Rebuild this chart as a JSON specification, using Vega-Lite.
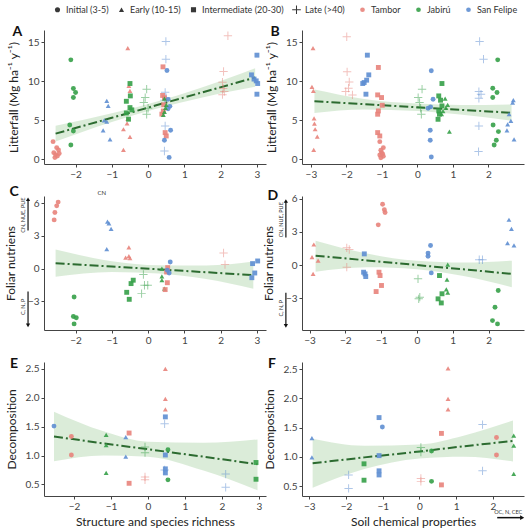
{
  "$schema": "https://vega.github.io/schema/vega-lite/v6.json",
  "padding": {"left": 4, "top": 5, "right": 2, "bottom": 2},
  "background": "white",
  "columns": 2,
  "bounds": "flush",
  "spacing": {"row": 32, "column": 36},
  "resolve": {"scale": {"color": "shared", "shape": "shared"}},
  "config": {
    "font": "Lato",
    "view": {"stroke": null},
    "axis": {"grid": false, "domainColor": "#444", "tickColor": "#444", "labelColor": "#444", "labelFontSize": 10, "titleFontSize": 12, "titleFontWeight": "normal", "titleColor": "#222", "tickSize": 3, "labelPadding": 2, "titlePadding": 5},
    "axisY": {"titlePadding": 7},
    "title": {"anchor": "start", "frame": "bounds", "fontSize": 14, "fontWeight": "bold", "color": "#111", "offset": -9, "dx": 5},
    "legend": {"orient": "none", "direction": "horizontal", "title": null, "labelFontSize": 9, "labelColor": "#333", "labelOffset": 4, "symbolStrokeWidth": 0},
    "mark": {"tooltip": false}
  },
  "datasets": {
    "fit": [
      {"panel": "A", "x": -2.55, "fit": 3.3, "lo": 2.3, "hi": 4.3},
      {"panel": "A", "x": -1.0, "fit": 5.33, "lo": 4.8, "hi": 5.9},
      {"panel": "A", "x": 0.2, "fit": 6.9, "lo": 6.45, "hi": 7.35},
      {"panel": "A", "x": 1.5, "fit": 8.6, "lo": 7.95, "hi": 9.25},
      {"panel": "A", "x": 2.95, "fit": 10.5, "lo": 9.3, "hi": 11.7},
      {"panel": "B", "x": -2.9, "fit": 7.45, "lo": 5.95, "hi": 8.95},
      {"panel": "B", "x": -1.5, "fit": 7.08, "lo": 6.4, "hi": 7.75},
      {"panel": "B", "x": 0.0, "fit": 6.68, "lo": 6.2, "hi": 7.15},
      {"panel": "B", "x": 1.2, "fit": 6.36, "lo": 5.75, "hi": 6.97},
      {"panel": "B", "x": 2.65, "fit": 5.98, "lo": 4.95, "hi": 7.05},
      {"panel": "C", "x": -2.55, "fit": 0.5, "lo": -0.75, "hi": 1.75},
      {"panel": "C", "x": -1.0, "fit": 0.19, "lo": -0.3, "hi": 0.68},
      {"panel": "C", "x": 0.3, "fit": -0.07, "lo": -0.45, "hi": 0.31},
      {"panel": "C", "x": 1.6, "fit": -0.33, "lo": -0.95, "hi": 0.29},
      {"panel": "C", "x": 2.9, "fit": -0.6, "lo": -1.85, "hi": 0.65},
      {"panel": "D", "x": -2.83, "fit": 0.85, "lo": -0.6, "hi": 2.2},
      {"panel": "D", "x": -1.4, "fit": 0.42, "lo": -0.2, "hi": 1.04},
      {"panel": "D", "x": 0.0, "fit": 0.0, "lo": -0.38, "hi": 0.38},
      {"panel": "D", "x": 1.3, "fit": -0.39, "lo": -1.0, "hi": 0.22},
      {"panel": "D", "x": 2.65, "fit": -0.8, "lo": -2.0, "hi": 0.4},
      {"panel": "E", "x": -2.54, "fit": 1.33, "lo": 0.9, "hi": 1.76},
      {"panel": "E", "x": -1.2, "fit": 1.21, "lo": 1.0, "hi": 1.42},
      {"panel": "E", "x": 0.0, "fit": 1.11, "lo": 0.98, "hi": 1.24},
      {"panel": "E", "x": 1.5, "fit": 0.98, "lo": 0.74, "hi": 1.22},
      {"panel": "E", "x": 2.96, "fit": 0.85, "lo": 0.4, "hi": 1.28},
      {"panel": "F", "x": -2.91, "fit": 0.89, "lo": 0.47, "hi": 1.31},
      {"panel": "F", "x": -1.5, "fit": 0.99, "lo": 0.79, "hi": 1.19},
      {"panel": "F", "x": 0.0, "fit": 1.09, "lo": 0.97, "hi": 1.21},
      {"panel": "F", "x": 1.2, "fit": 1.18, "lo": 1.0, "hi": 1.36},
      {"panel": "F", "x": 2.55, "fit": 1.27, "lo": 0.92, "hi": 1.62}
    ],
    "arrows": [
      {"panel": "C", "x": -3.31, "y": 3.5, "x2": -3.31, "y2": 6.3},
      {"panel": "C", "x": -3.31, "y": -2.1, "x2": -3.31, "y2": -5.15},
      {"panel": "D", "x": -3.66, "y": 2.5, "x2": -3.66, "y2": 5.75},
      {"panel": "D", "x": -3.66, "y": -2.5, "x2": -3.66, "y2": -5.45},
      {"panel": "F", "x": 2.12, "y": -0.04, "x2": 2.78, "y2": -0.04}
    ],
    "heads": [
      {"panel": "C", "x": -3.31, "y": 6.35, "dir": "up"},
      {"panel": "C", "x": -3.31, "y": -5.2, "dir": "down"},
      {"panel": "D", "x": -3.66, "y": 5.8, "dir": "up"},
      {"panel": "D", "x": -3.66, "y": -5.5, "dir": "down"},
      {"panel": "F", "x": 2.8, "y": -0.04, "dir": "right"}
    ],
    "notes": [
      {"panel": "C", "x": -3.44, "y": 4.9, "label": "CN, NUE, PUE", "rot": "v"},
      {"panel": "C", "x": -3.44, "y": -3.5, "label": "C, N, P", "rot": "v"},
      {"panel": "D", "x": -3.79, "y": 4.1, "label": "CN, NUE, PUE", "rot": "v"},
      {"panel": "D", "x": -3.79, "y": -3.9, "label": "C, N, P", "rot": "v"},
      {"panel": "C", "x": -1.28, "y": 6.95, "label": "CN", "rot": "h"},
      {"panel": "F", "x": 2.42, "y": 0.06, "label": "OC, N, CEC", "rot": "h"}
    ],
    "pts": [
      {"panel": "A", "site": "Tambor", "stage": "Initial (3-5)", "x": -2.62, "y": 2.27},
      {"panel": "A", "site": "Tambor", "stage": "Initial (3-5)", "x": -2.52, "y": 1.5},
      {"panel": "A", "site": "Tambor", "stage": "Initial (3-5)", "x": -2.47, "y": 1.2},
      {"panel": "A", "site": "Tambor", "stage": "Initial (3-5)", "x": -2.6, "y": 0.86},
      {"panel": "A", "site": "Tambor", "stage": "Initial (3-5)", "x": -2.55, "y": 0.6},
      {"panel": "A", "site": "Tambor", "stage": "Initial (3-5)", "x": -2.5, "y": 0.42},
      {"panel": "A", "site": "Tambor", "stage": "Initial (3-5)", "x": -2.57, "y": 0.22},
      {"panel": "A", "site": "Tambor", "stage": "Initial (3-5)", "x": -2.45, "y": 0.75},
      {"panel": "A", "site": "Jabirú", "stage": "Initial (3-5)", "x": -2.13, "y": 12.77},
      {"panel": "A", "site": "Jabirú", "stage": "Initial (3-5)", "x": -2.06, "y": 9.09},
      {"panel": "A", "site": "Jabirú", "stage": "Initial (3-5)", "x": -2.0, "y": 8.57},
      {"panel": "A", "site": "Jabirú", "stage": "Initial (3-5)", "x": -2.06, "y": 7.93},
      {"panel": "A", "site": "Jabirú", "stage": "Initial (3-5)", "x": -2.16, "y": 4.41},
      {"panel": "A", "site": "Jabirú", "stage": "Initial (3-5)", "x": -2.06, "y": 3.64},
      {"panel": "A", "site": "Jabirú", "stage": "Initial (3-5)", "x": -2.13, "y": 1.84},
      {"panel": "A", "site": "San Felipe", "stage": "Early (10-15)", "x": -1.14, "y": 7.5},
      {"panel": "A", "site": "San Felipe", "stage": "Early (10-15)", "x": -1.1, "y": 6.86},
      {"panel": "A", "site": "San Felipe", "stage": "Early (10-15)", "x": -1.21, "y": 5.0},
      {"panel": "A", "site": "San Felipe", "stage": "Early (10-15)", "x": -1.14, "y": 4.84},
      {"panel": "A", "site": "San Felipe", "stage": "Early (10-15)", "x": -1.24, "y": 3.73},
      {"panel": "A", "site": "San Felipe", "stage": "Early (10-15)", "x": -1.05, "y": 2.57},
      {"panel": "A", "site": "Tambor", "stage": "Early (10-15)", "x": -0.56, "y": 14.27},
      {"panel": "A", "site": "Tambor", "stage": "Early (10-15)", "x": -0.53, "y": 9.43},
      {"panel": "A", "site": "Tambor", "stage": "Early (10-15)", "x": -0.5, "y": 8.79},
      {"panel": "A", "site": "Tambor", "stage": "Early (10-15)", "x": -0.56, "y": 5.2},
      {"panel": "A", "site": "Tambor", "stage": "Early (10-15)", "x": -0.58, "y": 4.6},
      {"panel": "A", "site": "Tambor", "stage": "Early (10-15)", "x": -0.68, "y": 3.86},
      {"panel": "A", "site": "Tambor", "stage": "Early (10-15)", "x": -0.5, "y": 2.87},
      {"panel": "A", "site": "Tambor", "stage": "Early (10-15)", "x": -0.68, "y": 1.2},
      {"panel": "A", "site": "Jabirú", "stage": "Intermediate (20-30)", "x": -0.5, "y": 9.73},
      {"panel": "A", "site": "Jabirú", "stage": "Intermediate (20-30)", "x": -0.49, "y": 8.14},
      {"panel": "A", "site": "Jabirú", "stage": "Intermediate (20-30)", "x": -0.6, "y": 7.45},
      {"panel": "A", "site": "Jabirú", "stage": "Intermediate (20-30)", "x": -0.5, "y": 6.64},
      {"panel": "A", "site": "Jabirú", "stage": "Intermediate (20-30)", "x": -0.45, "y": 6.35},
      {"panel": "A", "site": "Jabirú", "stage": "Intermediate (20-30)", "x": -0.6, "y": 5.95},
      {"panel": "A", "site": "Jabirú", "stage": "Intermediate (20-30)", "x": -0.54, "y": 5.15},
      {"panel": "A", "site": "Jabirú", "stage": "Late (>40)", "x": -0.04, "y": 9.0},
      {"panel": "A", "site": "Jabirú", "stage": "Late (>40)", "x": -0.08, "y": 7.93},
      {"panel": "A", "site": "Jabirú", "stage": "Late (>40)", "x": -0.12, "y": 7.3},
      {"panel": "A", "site": "Jabirú", "stage": "Late (>40)", "x": 0.0, "y": 6.56},
      {"panel": "A", "site": "Jabirú", "stage": "Late (>40)", "x": -0.04, "y": 5.79},
      {"panel": "A", "site": "San Felipe", "stage": "Late (>40)", "x": 0.49, "y": 15.13},
      {"panel": "A", "site": "San Felipe", "stage": "Late (>40)", "x": 0.49, "y": 12.86},
      {"panel": "A", "site": "San Felipe", "stage": "Late (>40)", "x": 0.47, "y": 8.6},
      {"panel": "A", "site": "San Felipe", "stage": "Late (>40)", "x": 0.5, "y": 7.9},
      {"panel": "A", "site": "San Felipe", "stage": "Late (>40)", "x": 0.45, "y": 7.6},
      {"panel": "A", "site": "San Felipe", "stage": "Late (>40)", "x": 0.47, "y": 4.29},
      {"panel": "A", "site": "San Felipe", "stage": "Late (>40)", "x": 0.45, "y": 1.07},
      {"panel": "A", "site": "Tambor", "stage": "Intermediate (20-30)", "x": 0.41, "y": 11.87},
      {"panel": "A", "site": "Tambor", "stage": "Intermediate (20-30)", "x": 0.4, "y": 8.2},
      {"panel": "A", "site": "Tambor", "stage": "Intermediate (20-30)", "x": 0.45, "y": 7.9},
      {"panel": "A", "site": "Tambor", "stage": "Intermediate (20-30)", "x": 0.43, "y": 7.0},
      {"panel": "A", "site": "Tambor", "stage": "Intermediate (20-30)", "x": 0.42, "y": 6.2},
      {"panel": "A", "site": "Tambor", "stage": "Intermediate (20-30)", "x": 0.38, "y": 5.8},
      {"panel": "A", "site": "Tambor", "stage": "Intermediate (20-30)", "x": 0.47, "y": 3.43},
      {"panel": "A", "site": "Tambor", "stage": "Intermediate (20-30)", "x": 0.5, "y": 3.0},
      {"panel": "A", "site": "San Felipe", "stage": "Initial (3-5)", "x": 0.52, "y": 11.4},
      {"panel": "A", "site": "San Felipe", "stage": "Initial (3-5)", "x": 0.55, "y": 7.7},
      {"panel": "A", "site": "San Felipe", "stage": "Initial (3-5)", "x": 0.6, "y": 6.8},
      {"panel": "A", "site": "San Felipe", "stage": "Initial (3-5)", "x": 0.55, "y": 6.5},
      {"panel": "A", "site": "San Felipe", "stage": "Initial (3-5)", "x": 0.62, "y": 3.73},
      {"panel": "A", "site": "San Felipe", "stage": "Initial (3-5)", "x": 0.45, "y": 2.44},
      {"panel": "A", "site": "San Felipe", "stage": "Initial (3-5)", "x": 0.58, "y": 0.25},
      {"panel": "A", "site": "Jabirú", "stage": "Early (10-15)", "x": 0.45, "y": 7.8},
      {"panel": "A", "site": "Jabirú", "stage": "Early (10-15)", "x": 0.5, "y": 7.0},
      {"panel": "A", "site": "Jabirú", "stage": "Early (10-15)", "x": 0.48, "y": 6.6},
      {"panel": "A", "site": "Jabirú", "stage": "Early (10-15)", "x": 0.45, "y": 6.1},
      {"panel": "A", "site": "Jabirú", "stage": "Early (10-15)", "x": 0.42, "y": 5.7},
      {"panel": "A", "site": "Tambor", "stage": "Late (>40)", "x": 2.2, "y": 15.86},
      {"panel": "A", "site": "Tambor", "stage": "Late (>40)", "x": 2.08, "y": 11.27},
      {"panel": "A", "site": "Tambor", "stage": "Late (>40)", "x": 2.05, "y": 9.9},
      {"panel": "A", "site": "Tambor", "stage": "Late (>40)", "x": 2.07, "y": 9.1},
      {"panel": "A", "site": "Tambor", "stage": "Late (>40)", "x": 2.1, "y": 8.7},
      {"panel": "A", "site": "Tambor", "stage": "Late (>40)", "x": 2.05, "y": 8.3},
      {"panel": "A", "site": "San Felipe", "stage": "Intermediate (20-30)", "x": 3.0, "y": 13.37},
      {"panel": "A", "site": "San Felipe", "stage": "Intermediate (20-30)", "x": 2.85, "y": 10.84},
      {"panel": "A", "site": "San Felipe", "stage": "Intermediate (20-30)", "x": 2.92, "y": 10.3},
      {"panel": "A", "site": "San Felipe", "stage": "Intermediate (20-30)", "x": 2.98, "y": 10.07},
      {"panel": "A", "site": "San Felipe", "stage": "Intermediate (20-30)", "x": 3.02, "y": 9.73},
      {"panel": "A", "site": "San Felipe", "stage": "Intermediate (20-30)", "x": 3.0, "y": 8.36},

      {"panel": "B", "site": "Tambor", "stage": "Early (10-15)", "x": -2.94, "y": 14.27},
      {"panel": "B", "site": "Tambor", "stage": "Early (10-15)", "x": -2.97, "y": 9.3},
      {"panel": "B", "site": "Tambor", "stage": "Early (10-15)", "x": -2.93, "y": 8.79},
      {"panel": "B", "site": "Tambor", "stage": "Early (10-15)", "x": -2.91, "y": 5.27},
      {"panel": "B", "site": "Tambor", "stage": "Early (10-15)", "x": -2.9, "y": 4.59},
      {"panel": "B", "site": "Tambor", "stage": "Early (10-15)", "x": -2.88, "y": 3.86},
      {"panel": "B", "site": "Tambor", "stage": "Early (10-15)", "x": -2.82, "y": 2.91},
      {"panel": "B", "site": "Tambor", "stage": "Early (10-15)", "x": -2.92, "y": 1.2},
      {"panel": "B", "site": "Tambor", "stage": "Late (>40)", "x": -1.99, "y": 15.73},
      {"panel": "B", "site": "Tambor", "stage": "Late (>40)", "x": -1.98, "y": 11.23},
      {"panel": "B", "site": "Tambor", "stage": "Late (>40)", "x": -1.92, "y": 9.94},
      {"panel": "B", "site": "Tambor", "stage": "Late (>40)", "x": -1.94, "y": 9.13},
      {"panel": "B", "site": "Tambor", "stage": "Late (>40)", "x": -2.02, "y": 8.7},
      {"panel": "B", "site": "Tambor", "stage": "Late (>40)", "x": -1.83, "y": 8.27},
      {"panel": "B", "site": "San Felipe", "stage": "Intermediate (20-30)", "x": -1.41, "y": 13.37},
      {"panel": "B", "site": "San Felipe", "stage": "Intermediate (20-30)", "x": -1.37, "y": 10.84},
      {"panel": "B", "site": "San Felipe", "stage": "Intermediate (20-30)", "x": -1.43, "y": 10.16},
      {"panel": "B", "site": "San Felipe", "stage": "Intermediate (20-30)", "x": -1.5, "y": 9.86},
      {"panel": "B", "site": "San Felipe", "stage": "Intermediate (20-30)", "x": -1.54, "y": 9.73},
      {"panel": "B", "site": "San Felipe", "stage": "Intermediate (20-30)", "x": -1.45, "y": 8.36},
      {"panel": "B", "site": "Tambor", "stage": "Intermediate (20-30)", "x": -1.1, "y": 11.79},
      {"panel": "B", "site": "Tambor", "stage": "Intermediate (20-30)", "x": -1.12, "y": 8.27},
      {"panel": "B", "site": "Tambor", "stage": "Intermediate (20-30)", "x": -1.01, "y": 7.93},
      {"panel": "B", "site": "Tambor", "stage": "Intermediate (20-30)", "x": -0.99, "y": 6.94},
      {"panel": "B", "site": "Tambor", "stage": "Intermediate (20-30)", "x": -1.1, "y": 6.21},
      {"panel": "B", "site": "Tambor", "stage": "Intermediate (20-30)", "x": -1.12, "y": 5.79},
      {"panel": "B", "site": "Tambor", "stage": "Intermediate (20-30)", "x": -1.12, "y": 3.43},
      {"panel": "B", "site": "Tambor", "stage": "Intermediate (20-30)", "x": -1.06, "y": 3.0},
      {"panel": "B", "site": "Tambor", "stage": "Initial (3-5)", "x": -1.06, "y": 2.27},
      {"panel": "B", "site": "Tambor", "stage": "Initial (3-5)", "x": -0.96, "y": 1.5},
      {"panel": "B", "site": "Tambor", "stage": "Initial (3-5)", "x": -1.03, "y": 1.16},
      {"panel": "B", "site": "Tambor", "stage": "Initial (3-5)", "x": -1.01, "y": 0.86},
      {"panel": "B", "site": "Tambor", "stage": "Initial (3-5)", "x": -1.06, "y": 0.56},
      {"panel": "B", "site": "Tambor", "stage": "Initial (3-5)", "x": -0.96, "y": 0.39},
      {"panel": "B", "site": "Tambor", "stage": "Initial (3-5)", "x": -1.03, "y": 0.21},
      {"panel": "B", "site": "Tambor", "stage": "Initial (3-5)", "x": -0.98, "y": 0.7},
      {"panel": "B", "site": "Jabirú", "stage": "Late (>40)", "x": 0.13, "y": 9.0},
      {"panel": "B", "site": "Jabirú", "stage": "Late (>40)", "x": 0.02, "y": 7.93},
      {"panel": "B", "site": "Jabirú", "stage": "Late (>40)", "x": 0.06, "y": 7.29},
      {"panel": "B", "site": "Jabirú", "stage": "Late (>40)", "x": 0.09, "y": 6.56},
      {"panel": "B", "site": "Jabirú", "stage": "Late (>40)", "x": 0.11, "y": 5.79},
      {"panel": "B", "site": "San Felipe", "stage": "Initial (3-5)", "x": 0.39, "y": 11.36},
      {"panel": "B", "site": "San Felipe", "stage": "Initial (3-5)", "x": 0.44, "y": 7.71},
      {"panel": "B", "site": "San Felipe", "stage": "Initial (3-5)", "x": 0.37, "y": 6.73},
      {"panel": "B", "site": "San Felipe", "stage": "Initial (3-5)", "x": 0.3, "y": 6.56},
      {"panel": "B", "site": "San Felipe", "stage": "Initial (3-5)", "x": 0.36, "y": 3.73},
      {"panel": "B", "site": "San Felipe", "stage": "Initial (3-5)", "x": 0.36, "y": 2.44},
      {"panel": "B", "site": "San Felipe", "stage": "Initial (3-5)", "x": 0.39, "y": 0.3},
      {"panel": "B", "site": "Jabirú", "stage": "Intermediate (20-30)", "x": 0.69, "y": 9.73},
      {"panel": "B", "site": "Jabirú", "stage": "Intermediate (20-30)", "x": 0.6, "y": 8.14},
      {"panel": "B", "site": "Jabirú", "stage": "Intermediate (20-30)", "x": 0.65, "y": 7.59},
      {"panel": "B", "site": "Jabirú", "stage": "Intermediate (20-30)", "x": 0.69, "y": 6.86},
      {"panel": "B", "site": "Jabirú", "stage": "Intermediate (20-30)", "x": 0.6, "y": 6.21},
      {"panel": "B", "site": "Jabirú", "stage": "Intermediate (20-30)", "x": 0.62, "y": 5.79},
      {"panel": "B", "site": "Jabirú", "stage": "Intermediate (20-30)", "x": 0.58, "y": 5.14},
      {"panel": "B", "site": "Jabirú", "stage": "Early (10-15)", "x": 0.78, "y": 7.8},
      {"panel": "B", "site": "Jabirú", "stage": "Early (10-15)", "x": 0.85, "y": 7.0},
      {"panel": "B", "site": "Jabirú", "stage": "Early (10-15)", "x": 0.8, "y": 6.6},
      {"panel": "B", "site": "Jabirú", "stage": "Early (10-15)", "x": 0.72, "y": 6.2},
      {"panel": "B", "site": "Jabirú", "stage": "Early (10-15)", "x": 0.68, "y": 5.8},
      {"panel": "B", "site": "Jabirú", "stage": "Early (10-15)", "x": 0.9, "y": 3.56},
      {"panel": "B", "site": "San Felipe", "stage": "Late (>40)", "x": 1.75, "y": 15.13},
      {"panel": "B", "site": "San Felipe", "stage": "Late (>40)", "x": 1.86, "y": 12.86},
      {"panel": "B", "site": "San Felipe", "stage": "Late (>40)", "x": 1.73, "y": 8.7},
      {"panel": "B", "site": "San Felipe", "stage": "Late (>40)", "x": 1.79, "y": 8.36},
      {"panel": "B", "site": "San Felipe", "stage": "Late (>40)", "x": 1.73, "y": 7.84},
      {"panel": "B", "site": "San Felipe", "stage": "Late (>40)", "x": 1.73, "y": 4.29},
      {"panel": "B", "site": "San Felipe", "stage": "Late (>40)", "x": 1.72, "y": 0.99},
      {"panel": "B", "site": "Jabirú", "stage": "Initial (3-5)", "x": 2.26, "y": 12.77},
      {"panel": "B", "site": "Jabirú", "stage": "Initial (3-5)", "x": 2.12, "y": 9.13},
      {"panel": "B", "site": "Jabirú", "stage": "Initial (3-5)", "x": 2.24, "y": 8.57},
      {"panel": "B", "site": "Jabirú", "stage": "Initial (3-5)", "x": 2.12, "y": 7.93},
      {"panel": "B", "site": "Jabirú", "stage": "Initial (3-5)", "x": 2.13, "y": 4.41},
      {"panel": "B", "site": "Jabirú", "stage": "Initial (3-5)", "x": 2.28, "y": 3.56},
      {"panel": "B", "site": "Jabirú", "stage": "Initial (3-5)", "x": 2.22, "y": 2.44},
      {"panel": "B", "site": "Jabirú", "stage": "Initial (3-5)", "x": 2.16, "y": 1.84},
      {"panel": "B", "site": "San Felipe", "stage": "Early (10-15)", "x": 2.7, "y": 7.59},
      {"panel": "B", "site": "San Felipe", "stage": "Early (10-15)", "x": 2.68, "y": 7.29},
      {"panel": "B", "site": "San Felipe", "stage": "Early (10-15)", "x": 2.58, "y": 5.79},
      {"panel": "B", "site": "San Felipe", "stage": "Early (10-15)", "x": 2.63, "y": 4.93},
      {"panel": "B", "site": "San Felipe", "stage": "Early (10-15)", "x": 2.54, "y": 4.5},
      {"panel": "B", "site": "San Felipe", "stage": "Early (10-15)", "x": 2.52, "y": 3.73},
      {"panel": "B", "site": "San Felipe", "stage": "Early (10-15)", "x": 2.72, "y": 2.57},

      {"panel": "C", "site": "Tambor", "stage": "Initial (3-5)", "x": -2.59, "y": 4.46},
      {"panel": "C", "site": "Tambor", "stage": "Initial (3-5)", "x": -2.57, "y": 5.14},
      {"panel": "C", "site": "Tambor", "stage": "Initial (3-5)", "x": -2.52, "y": 5.75},
      {"panel": "C", "site": "Tambor", "stage": "Initial (3-5)", "x": -2.48, "y": 6.09},
      {"panel": "C", "site": "Jabirú", "stage": "Initial (3-5)", "x": -2.04, "y": -2.6},
      {"panel": "C", "site": "Jabirú", "stage": "Initial (3-5)", "x": -2.06, "y": -4.38},
      {"panel": "C", "site": "Jabirú", "stage": "Initial (3-5)", "x": -1.98, "y": -4.5},
      {"panel": "C", "site": "Jabirú", "stage": "Initial (3-5)", "x": -2.04, "y": -5.06},
      {"panel": "C", "site": "San Felipe", "stage": "Early (10-15)", "x": -1.12, "y": 4.31},
      {"panel": "C", "site": "San Felipe", "stage": "Early (10-15)", "x": -1.08, "y": 4.15},
      {"panel": "C", "site": "San Felipe", "stage": "Early (10-15)", "x": -1.02, "y": 3.64},
      {"panel": "C", "site": "San Felipe", "stage": "Early (10-15)", "x": -1.14, "y": 1.79},
      {"panel": "C", "site": "Tambor", "stage": "Early (10-15)", "x": -0.53, "y": 1.94},
      {"panel": "C", "site": "Tambor", "stage": "Early (10-15)", "x": -0.62, "y": 1.01},
      {"panel": "C", "site": "Tambor", "stage": "Early (10-15)", "x": -0.53, "y": 1.14},
      {"panel": "C", "site": "Tambor", "stage": "Early (10-15)", "x": -0.5, "y": 0.95},
      {"panel": "C", "site": "Jabirú", "stage": "Intermediate (20-30)", "x": -0.41, "y": -1.06},
      {"panel": "C", "site": "Jabirú", "stage": "Intermediate (20-30)", "x": -0.47, "y": -1.37},
      {"panel": "C", "site": "Jabirú", "stage": "Intermediate (20-30)", "x": -0.59, "y": -2.17},
      {"panel": "C", "site": "Jabirú", "stage": "Intermediate (20-30)", "x": -0.52, "y": -2.81},
      {"panel": "C", "site": "Jabirú", "stage": "Late (>40)", "x": -0.13, "y": -0.54},
      {"panel": "C", "site": "Jabirú", "stage": "Late (>40)", "x": -0.1, "y": -1.52},
      {"panel": "C", "site": "Jabirú", "stage": "Late (>40)", "x": -0.01, "y": -1.52},
      {"panel": "C", "site": "Jabirú", "stage": "Late (>40)", "x": -0.18, "y": -2.29},
      {"panel": "C", "site": "Jabirú", "stage": "Early (10-15)", "x": 0.38, "y": 0.0},
      {"panel": "C", "site": "Jabirú", "stage": "Early (10-15)", "x": 0.38, "y": -0.71},
      {"panel": "C", "site": "Jabirú", "stage": "Early (10-15)", "x": 0.38, "y": -1.06},
      {"panel": "C", "site": "Jabirú", "stage": "Early (10-15)", "x": 0.45, "y": -1.83},
      {"panel": "C", "site": "Tambor", "stage": "Intermediate (20-30)", "x": 0.54, "y": 0.09},
      {"panel": "C", "site": "Tambor", "stage": "Intermediate (20-30)", "x": 0.51, "y": -0.31},
      {"panel": "C", "site": "Tambor", "stage": "Intermediate (20-30)", "x": 0.53, "y": -1.29},
      {"panel": "C", "site": "Tambor", "stage": "Intermediate (20-30)", "x": 0.47, "y": -1.92},
      {"panel": "C", "site": "San Felipe", "stage": "Initial (3-5)", "x": 0.61, "y": 0.61},
      {"panel": "C", "site": "San Felipe", "stage": "Initial (3-5)", "x": 0.53, "y": -0.15},
      {"panel": "C", "site": "San Felipe", "stage": "Initial (3-5)", "x": 0.58, "y": -0.4},
      {"panel": "C", "site": "Tambor", "stage": "Late (>40)", "x": 2.08, "y": 1.43},
      {"panel": "C", "site": "Tambor", "stage": "Late (>40)", "x": 2.12, "y": 0.37},
      {"panel": "C", "site": "San Felipe", "stage": "Intermediate (20-30)", "x": 2.86, "y": -0.83},
      {"panel": "C", "site": "San Felipe", "stage": "Intermediate (20-30)", "x": 2.94, "y": -0.4},
      {"panel": "C", "site": "San Felipe", "stage": "Intermediate (20-30)", "x": 2.88, "y": 0.46},
      {"panel": "C", "site": "San Felipe", "stage": "Intermediate (20-30)", "x": 3.02, "y": 0.7},

      {"panel": "D", "site": "Tambor", "stage": "Early (10-15)", "x": -2.88, "y": 1.86},
      {"panel": "D", "site": "Tambor", "stage": "Early (10-15)", "x": -2.93, "y": 0.71},
      {"panel": "D", "site": "Tambor", "stage": "Early (10-15)", "x": -2.76, "y": 0.41},
      {"panel": "D", "site": "Tambor", "stage": "Early (10-15)", "x": -2.9, "y": -0.8},
      {"panel": "D", "site": "Tambor", "stage": "Late (>40)", "x": -1.96, "y": 1.56},
      {"panel": "D", "site": "Tambor", "stage": "Late (>40)", "x": -1.89, "y": 1.41},
      {"panel": "D", "site": "Tambor", "stage": "Late (>40)", "x": -1.96, "y": -0.19},
      {"panel": "D", "site": "San Felipe", "stage": "Intermediate (20-30)", "x": -1.47, "y": 1.01},
      {"panel": "D", "site": "San Felipe", "stage": "Intermediate (20-30)", "x": -1.49, "y": -0.65},
      {"panel": "D", "site": "San Felipe", "stage": "Intermediate (20-30)", "x": -1.45, "y": -0.8},
      {"panel": "D", "site": "San Felipe", "stage": "Intermediate (20-30)", "x": -1.43, "y": -1.04},
      {"panel": "D", "site": "Tambor", "stage": "Initial (3-5)", "x": -0.96, "y": 5.5},
      {"panel": "D", "site": "Tambor", "stage": "Initial (3-5)", "x": -0.91, "y": 5.0},
      {"panel": "D", "site": "Tambor", "stage": "Initial (3-5)", "x": -0.89, "y": 4.75},
      {"panel": "D", "site": "Tambor", "stage": "Initial (3-5)", "x": -1.08, "y": 3.64},
      {"panel": "D", "site": "Tambor", "stage": "Intermediate (20-30)", "x": -1.06, "y": -0.65},
      {"panel": "D", "site": "Tambor", "stage": "Intermediate (20-30)", "x": -1.03, "y": -0.95},
      {"panel": "D", "site": "Tambor", "stage": "Intermediate (20-30)", "x": -0.99, "y": -1.85},
      {"panel": "D", "site": "Tambor", "stage": "Intermediate (20-30)", "x": -1.14, "y": -2.4},
      {"panel": "D", "site": "San Felipe", "stage": "Initial (3-5)", "x": 0.38, "y": 1.77},
      {"panel": "D", "site": "San Felipe", "stage": "Initial (3-5)", "x": 0.31, "y": 1.08},
      {"panel": "D", "site": "San Felipe", "stage": "Initial (3-5)", "x": 0.31, "y": 0.8},
      {"panel": "D", "site": "San Felipe", "stage": "Initial (3-5)", "x": 0.4, "y": -0.71},
      {"panel": "D", "site": "Jabirú", "stage": "Late (>40)", "x": 0.03, "y": -1.25},
      {"panel": "D", "site": "Jabirú", "stage": "Late (>40)", "x": 0.08, "y": -2.91},
      {"panel": "D", "site": "Jabirú", "stage": "Late (>40)", "x": 0.05, "y": -3.06},
      {"panel": "D", "site": "Jabirú", "stage": "Intermediate (20-30)", "x": 0.63, "y": -0.95},
      {"panel": "D", "site": "Jabirú", "stage": "Intermediate (20-30)", "x": 0.59, "y": -3.06},
      {"panel": "D", "site": "Jabirú", "stage": "Intermediate (20-30)", "x": 0.68, "y": -3.43},
      {"panel": "D", "site": "Jabirú", "stage": "Intermediate (20-30)", "x": 0.7, "y": -2.6},
      {"panel": "D", "site": "Jabirú", "stage": "Early (10-15)", "x": 0.86, "y": 0.03},
      {"panel": "D", "site": "Jabirú", "stage": "Early (10-15)", "x": 0.84, "y": -1.31},
      {"panel": "D", "site": "Jabirú", "stage": "Early (10-15)", "x": 0.82, "y": -2.21},
      {"panel": "D", "site": "Jabirú", "stage": "Early (10-15)", "x": 0.86, "y": -2.49},
      {"panel": "D", "site": "San Felipe", "stage": "Late (>40)", "x": 1.74, "y": 0.48},
      {"panel": "D", "site": "San Felipe", "stage": "Late (>40)", "x": 1.83, "y": 0.48},
      {"panel": "D", "site": "Jabirú", "stage": "Initial (3-5)", "x": 2.27, "y": -2.31},
      {"panel": "D", "site": "Jabirú", "stage": "Initial (3-5)", "x": 2.18, "y": -3.82},
      {"panel": "D", "site": "Jabirú", "stage": "Initial (3-5)", "x": 2.11, "y": -5.03},
      {"panel": "D", "site": "Jabirú", "stage": "Initial (3-5)", "x": 2.25, "y": -5.33},
      {"panel": "D", "site": "San Felipe", "stage": "Early (10-15)", "x": 2.57, "y": 4.1},
      {"panel": "D", "site": "San Felipe", "stage": "Early (10-15)", "x": 2.64, "y": 3.28},
      {"panel": "D", "site": "San Felipe", "stage": "Early (10-15)", "x": 2.53, "y": 1.98},
      {"panel": "D", "site": "San Felipe", "stage": "Early (10-15)", "x": 2.71, "y": 1.77},

      {"panel": "E", "site": "San Felipe", "stage": "Initial (3-5)", "x": -2.54, "y": 1.51},
      {"panel": "E", "site": "Tambor", "stage": "Initial (3-5)", "x": -2.07, "y": 1.33},
      {"panel": "E", "site": "Tambor", "stage": "Initial (3-5)", "x": -2.07, "y": 1.01},
      {"panel": "E", "site": "Jabirú", "stage": "Early (10-15)", "x": -1.13, "y": 1.36},
      {"panel": "E", "site": "Jabirú", "stage": "Early (10-15)", "x": -1.13, "y": 1.18},
      {"panel": "E", "site": "Jabirú", "stage": "Early (10-15)", "x": -1.13, "y": 0.7},
      {"panel": "E", "site": "San Felipe", "stage": "Early (10-15)", "x": -0.6, "y": 1.32},
      {"panel": "E", "site": "San Felipe", "stage": "Early (10-15)", "x": -0.6, "y": 0.98},
      {"panel": "E", "site": "Tambor", "stage": "Intermediate (20-30)", "x": -0.51, "y": 1.39},
      {"panel": "E", "site": "Tambor", "stage": "Intermediate (20-30)", "x": -0.51, "y": 0.52},
      {"panel": "E", "site": "Jabirú", "stage": "Late (>40)", "x": -0.08, "y": 1.15},
      {"panel": "E", "site": "Jabirú", "stage": "Late (>40)", "x": -0.08, "y": 1.05},
      {"panel": "E", "site": "Tambor", "stage": "Late (>40)", "x": -0.08, "y": 0.63},
      {"panel": "E", "site": "Tambor", "stage": "Late (>40)", "x": -0.08, "y": 0.58},
      {"panel": "E", "site": "San Felipe", "stage": "Late (>40)", "x": 0.45, "y": 1.55},
      {"panel": "E", "site": "San Felipe", "stage": "Late (>40)", "x": 0.45, "y": 0.75},
      {"panel": "E", "site": "San Felipe", "stage": "Intermediate (20-30)", "x": 0.47, "y": 1.67},
      {"panel": "E", "site": "San Felipe", "stage": "Intermediate (20-30)", "x": 0.47, "y": 1.01},
      {"panel": "E", "site": "San Felipe", "stage": "Intermediate (20-30)", "x": 0.47, "y": 0.77},
      {"panel": "E", "site": "San Felipe", "stage": "Intermediate (20-30)", "x": 0.47, "y": 0.7},
      {"panel": "E", "site": "Tambor", "stage": "Early (10-15)", "x": 0.47, "y": 2.5},
      {"panel": "E", "site": "Tambor", "stage": "Early (10-15)", "x": 0.47, "y": 1.98},
      {"panel": "E", "site": "Tambor", "stage": "Early (10-15)", "x": 0.47, "y": 1.8},
      {"panel": "E", "site": "Jabirú", "stage": "Initial (3-5)", "x": 0.54, "y": 1.1},
      {"panel": "E", "site": "Jabirú", "stage": "Initial (3-5)", "x": 0.54, "y": 0.58},
      {"panel": "E", "site": "San Felipe", "stage": "Late (>40)", "x": 2.1, "y": 0.68},
      {"panel": "E", "site": "San Felipe", "stage": "Late (>40)", "x": 2.1, "y": 0.45},
      {"panel": "E", "site": "Jabirú", "stage": "Intermediate (20-30)", "x": 2.92, "y": 0.88},
      {"panel": "E", "site": "Jabirú", "stage": "Intermediate (20-30)", "x": 2.92, "y": 0.59},

      {"panel": "F", "site": "San Felipe", "stage": "Early (10-15)", "x": -2.93, "y": 1.32},
      {"panel": "F", "site": "San Felipe", "stage": "Early (10-15)", "x": -2.93, "y": 0.99},
      {"panel": "F", "site": "San Felipe", "stage": "Late (>40)", "x": -1.93, "y": 0.69},
      {"panel": "F", "site": "San Felipe", "stage": "Late (>40)", "x": -1.93, "y": 0.46},
      {"panel": "F", "site": "Jabirú", "stage": "Intermediate (20-30)", "x": -1.51, "y": 0.88},
      {"panel": "F", "site": "Jabirú", "stage": "Intermediate (20-30)", "x": -1.51, "y": 0.6},
      {"panel": "F", "site": "San Felipe", "stage": "Intermediate (20-30)", "x": -1.1, "y": 1.67},
      {"panel": "F", "site": "San Felipe", "stage": "Intermediate (20-30)", "x": -1.1, "y": 1.02},
      {"panel": "F", "site": "San Felipe", "stage": "Intermediate (20-30)", "x": -1.1, "y": 0.76},
      {"panel": "F", "site": "San Felipe", "stage": "Intermediate (20-30)", "x": -1.1, "y": 0.69},
      {"panel": "F", "site": "San Felipe", "stage": "Initial (3-5)", "x": -1.01, "y": 1.51},
      {"panel": "F", "site": "Jabirú", "stage": "Late (>40)", "x": 0.04, "y": 1.16},
      {"panel": "F", "site": "Jabirú", "stage": "Late (>40)", "x": 0.04, "y": 1.08},
      {"panel": "F", "site": "Tambor", "stage": "Late (>40)", "x": 0.04, "y": 0.63},
      {"panel": "F", "site": "Tambor", "stage": "Late (>40)", "x": 0.04, "y": 0.58},
      {"panel": "F", "site": "Jabirú", "stage": "Initial (3-5)", "x": 0.33, "y": 1.1},
      {"panel": "F", "site": "Jabirú", "stage": "Initial (3-5)", "x": 0.33, "y": 0.58},
      {"panel": "F", "site": "Tambor", "stage": "Intermediate (20-30)", "x": 0.6, "y": 1.4},
      {"panel": "F", "site": "Tambor", "stage": "Intermediate (20-30)", "x": 0.6, "y": 0.52},
      {"panel": "F", "site": "Tambor", "stage": "Early (10-15)", "x": 0.78, "y": 2.51},
      {"panel": "F", "site": "Tambor", "stage": "Early (10-15)", "x": 0.78, "y": 1.99},
      {"panel": "F", "site": "Tambor", "stage": "Early (10-15)", "x": 0.78, "y": 1.81},
      {"panel": "F", "site": "San Felipe", "stage": "Late (>40)", "x": 1.72, "y": 1.55},
      {"panel": "F", "site": "San Felipe", "stage": "Late (>40)", "x": 1.72, "y": 0.76},
      {"panel": "F", "site": "Tambor", "stage": "Initial (3-5)", "x": 2.1, "y": 1.33},
      {"panel": "F", "site": "Tambor", "stage": "Initial (3-5)", "x": 2.1, "y": 1.03},
      {"panel": "F", "site": "Jabirú", "stage": "Early (10-15)", "x": 2.57, "y": 1.36},
      {"panel": "F", "site": "Jabirú", "stage": "Early (10-15)", "x": 2.57, "y": 1.19},
      {"panel": "F", "site": "Jabirú", "stage": "Early (10-15)", "x": 2.57, "y": 0.71}
    ]
  },
  "concat": [
    {
      "title": "A",
      "width": 222, "height": 134,
      "encoding": {
        "x": {"field": "x", "type": "quantitative", "scale": {"domain": [-2.87, 3.25], "nice": false, "zero": false}, "axis": {"values": [-2, -1, 0, 1, 2, 3]}, "title": null},
        "y": {"field": "y", "type": "quantitative", "scale": {"domain": [-0.6, 16.6], "nice": false, "zero": false}, "axis": {"values": [0, 5, 10, 15]}, "title": "Litterfall (Mg ha⁻¹ y⁻¹)"}
      },
      "layer": [
        {"data": {"name": "fit"}, "transform": [{"filter": "datum.panel == 'A'"}], "mark": {"type": "area", "interpolate": "monotone", "color": "#cfe6cc", "opacity": 0.75},
         "encoding": {"y": {"field": "lo", "type": "quantitative", "scale": {"domain": [-0.6, 16.6], "nice": false, "zero": false}, "title": "Litterfall (Mg ha⁻¹ y⁻¹)"}, "y2": {"field": "hi"}}},
        {"data": {"name": "fit"}, "transform": [{"filter": "datum.panel == 'A'"}], "mark": {"type": "line", "color": "#2c6b30", "strokeWidth": 2, "strokeDash": [9, 3, 2, 3]},
         "encoding": {"y": {"field": "fit", "type": "quantitative", "scale": {"domain": [-0.6, 16.6], "nice": false, "zero": false}, "title": "Litterfall (Mg ha⁻¹ y⁻¹)"}}},
        {"data": {"name": "pts"}, "transform": [{"filter": "datum.panel == 'A'"}], "mark": {"type": "point", "filled": true, "strokeWidth": 0, "size": 24},
         "encoding": {
           "shape": {"field": "stage", "type": "nominal", "scale": {"domain": ["Initial (3-5)", "Early (10-15)", "Intermediate (20-30)", "Late (>40)"], "range": ["circle", "triangle-up", "square", "M-1.7,-0.2H-0.2V-1.7H0.2V-0.2H1.7V0.2H0.2V1.7H-0.2V0.2H-1.7Z"]}, "legend": {"symbolFillColor": "#222", "symbolSize": 26, "columnPadding": 8, "legendX": 9, "legendY": -25}},
           "color": {"field": "site", "type": "nominal", "scale": {"domain": ["Tambor", "Jabirú", "San Felipe"], "range": ["#E8837B", "#35A048", "#5E8ED2"]}, "legend": {"symbolType": "circle", "symbolSize": 22, "columnPadding": 13, "legendX": 314, "legendY": -25}},
           "opacity": {"condition": {"test": "datum.stage == 'Late (>40)'", "value": 0.5}, "value": 0.9}
         }}
      ]
    },
    {
      "title": "B",
      "width": 222, "height": 134,
      "encoding": {
        "x": {"field": "x", "type": "quantitative", "scale": {"domain": [-3.25, 3.0], "nice": false, "zero": false}, "axis": {"values": [-3, -2, -1, 0, 1, 2]}, "title": null},
        "y": {"field": "y", "type": "quantitative", "scale": {"domain": [-0.6, 16.6], "nice": false, "zero": false}, "axis": {"values": [0, 5, 10, 15]}, "title": "Litterfall (Mg ha⁻¹ y⁻¹)"}
      },
      "layer": [
        {"data": {"name": "fit"}, "transform": [{"filter": "datum.panel == 'B'"}], "mark": {"type": "area", "interpolate": "monotone", "color": "#cfe6cc", "opacity": 0.75},
         "encoding": {"y": {"field": "lo", "type": "quantitative", "scale": {"domain": [-0.6, 16.6], "nice": false, "zero": false}, "title": "Litterfall (Mg ha⁻¹ y⁻¹)"}, "y2": {"field": "hi"}}},
        {"data": {"name": "fit"}, "transform": [{"filter": "datum.panel == 'B'"}], "mark": {"type": "line", "color": "#2c6b30", "strokeWidth": 2, "strokeDash": [9, 3, 2, 3]},
         "encoding": {"y": {"field": "fit", "type": "quantitative", "scale": {"domain": [-0.6, 16.6], "nice": false, "zero": false}, "title": "Litterfall (Mg ha⁻¹ y⁻¹)"}}},
        {"data": {"name": "pts"}, "transform": [{"filter": "datum.panel == 'B'"}], "mark": {"type": "point", "filled": true, "strokeWidth": 0, "size": 24},
         "encoding": {
           "shape": {"field": "stage", "type": "nominal", "scale": {"domain": ["Initial (3-5)", "Early (10-15)", "Intermediate (20-30)", "Late (>40)"], "range": ["circle", "triangle-up", "square", "M-1.7,-0.2H-0.2V-1.7H0.2V-0.2H1.7V0.2H0.2V1.7H-0.2V0.2H-1.7Z"]}, "legend": {"symbolFillColor": "#222", "symbolSize": 26, "columnPadding": 8, "legendX": 9, "legendY": -25}},
           "color": {"field": "site", "type": "nominal", "scale": {"domain": ["Tambor", "Jabirú", "San Felipe"], "range": ["#E8837B", "#35A048", "#5E8ED2"]}, "legend": {"symbolType": "circle", "symbolSize": 22, "columnPadding": 13, "legendX": 314, "legendY": -25}},
           "opacity": {"condition": {"test": "datum.stage == 'Late (>40)'", "value": 0.5}, "value": 0.9}
         }}
      ]
    },
    {
      "title": "C",
      "width": 222, "height": 134,
      "encoding": {
        "x": {"field": "x", "type": "quantitative", "scale": {"domain": [-2.87, 3.25], "nice": false, "zero": false}, "axis": {"values": [-2, -1, 0, 1, 2, 3]}, "title": null},
        "y": {"field": "y", "type": "quantitative", "scale": {"domain": [-5.62, 6.65], "nice": false, "zero": false}, "axis": {"values": [-3, 0, 3, 6], "titlePadding": 10}, "title": "Foliar nutriens"}
      },
      "layer": [
        {"data": {"name": "fit"}, "transform": [{"filter": "datum.panel == 'C'"}], "mark": {"type": "area", "interpolate": "monotone", "color": "#cfe6cc", "opacity": 0.75},
         "encoding": {"y": {"field": "lo", "type": "quantitative", "scale": {"domain": [-5.62, 6.65], "nice": false, "zero": false}, "title": "Foliar nutriens"}, "y2": {"field": "hi"}}},
        {"data": {"name": "fit"}, "transform": [{"filter": "datum.panel == 'C'"}], "mark": {"type": "line", "color": "#2c6b30", "strokeWidth": 2, "strokeDash": [9, 3, 2, 3]},
         "encoding": {"y": {"field": "fit", "type": "quantitative", "scale": {"domain": [-5.62, 6.65], "nice": false, "zero": false}, "title": "Foliar nutriens"}}},
        {"data": {"name": "arrows"}, "transform": [{"filter": "datum.panel == 'C'"}], "mark": {"type": "rule", "color": "#111", "strokeWidth": 1.2},
         "encoding": {"x2": {"field": "x2"}, "y2": {"field": "y2"}}},
        {"data": {"name": "heads"}, "transform": [{"filter": "datum.panel == 'C' && datum.dir == 'up'"}], "mark": {"type": "point", "shape": "triangle-up", "filled": true, "color": "#111", "size": 18, "opacity": 1}, "encoding": {}},
        {"data": {"name": "heads"}, "transform": [{"filter": "datum.panel == 'C' && datum.dir == 'down'"}], "mark": {"type": "point", "shape": "triangle-down", "filled": true, "color": "#111", "size": 18, "opacity": 1}, "encoding": {}},
        {"data": {"name": "notes"}, "transform": [{"filter": "datum.panel == 'C' && datum.rot == 'v'"}], "mark": {"type": "text", "angle": 270, "fontSize": 5.5, "color": "#333"},
         "encoding": {"text": {"field": "label"}}},
        {"data": {"name": "notes"}, "transform": [{"filter": "datum.panel == 'C' && datum.rot == 'h'"}], "mark": {"type": "text", "fontSize": 6, "color": "#333"},
         "encoding": {"text": {"field": "label"}}},
        {"data": {"name": "pts"}, "transform": [{"filter": "datum.panel == 'C'"}], "mark": {"type": "point", "filled": true, "strokeWidth": 0, "size": 24},
         "encoding": {
           "shape": {"field": "stage", "type": "nominal", "scale": {"domain": ["Initial (3-5)", "Early (10-15)", "Intermediate (20-30)", "Late (>40)"], "range": ["circle", "triangle-up", "square", "M-1.7,-0.2H-0.2V-1.7H0.2V-0.2H1.7V0.2H0.2V1.7H-0.2V0.2H-1.7Z"]}, "legend": {"symbolFillColor": "#222", "symbolSize": 26, "columnPadding": 8, "legendX": 9, "legendY": -25}},
           "color": {"field": "site", "type": "nominal", "scale": {"domain": ["Tambor", "Jabirú", "San Felipe"], "range": ["#E8837B", "#35A048", "#5E8ED2"]}, "legend": {"symbolType": "circle", "symbolSize": 22, "columnPadding": 13, "legendX": 314, "legendY": -25}},
           "opacity": {"condition": {"test": "datum.stage == 'Late (>40)'", "value": 0.5}, "value": 0.9}
         }}
      ]
    },
    {
      "title": "D",
      "width": 222, "height": 134,
      "encoding": {
        "x": {"field": "x", "type": "quantitative", "scale": {"domain": [-3.21, 2.99], "nice": false, "zero": false}, "axis": {"values": [-3, -2, -1, 0, 1, 2]}, "title": null},
        "y": {"field": "y", "type": "quantitative", "scale": {"domain": [-5.88, 6.25], "nice": false, "zero": false}, "axis": {"values": [-3, 0, 3, 6], "titlePadding": 10}, "title": "Foliar nutriens"}
      },
      "layer": [
        {"data": {"name": "fit"}, "transform": [{"filter": "datum.panel == 'D'"}], "mark": {"type": "area", "interpolate": "monotone", "color": "#cfe6cc", "opacity": 0.75},
         "encoding": {"y": {"field": "lo", "type": "quantitative", "scale": {"domain": [-5.88, 6.25], "nice": false, "zero": false}, "title": "Foliar nutriens"}, "y2": {"field": "hi"}}},
        {"data": {"name": "fit"}, "transform": [{"filter": "datum.panel == 'D'"}], "mark": {"type": "line", "color": "#2c6b30", "strokeWidth": 2, "strokeDash": [9, 3, 2, 3]},
         "encoding": {"y": {"field": "fit", "type": "quantitative", "scale": {"domain": [-5.88, 6.25], "nice": false, "zero": false}, "title": "Foliar nutriens"}}},
        {"data": {"name": "arrows"}, "transform": [{"filter": "datum.panel == 'D'"}], "mark": {"type": "rule", "color": "#111", "strokeWidth": 1.2},
         "encoding": {"x2": {"field": "x2"}, "y2": {"field": "y2"}}},
        {"data": {"name": "heads"}, "transform": [{"filter": "datum.panel == 'D' && datum.dir == 'up'"}], "mark": {"type": "point", "shape": "triangle-up", "filled": true, "color": "#111", "size": 18, "opacity": 1}, "encoding": {}},
        {"data": {"name": "heads"}, "transform": [{"filter": "datum.panel == 'D' && datum.dir == 'down'"}], "mark": {"type": "point", "shape": "triangle-down", "filled": true, "color": "#111", "size": 18, "opacity": 1}, "encoding": {}},
        {"data": {"name": "notes"}, "transform": [{"filter": "datum.panel == 'D' && datum.rot == 'v'"}], "mark": {"type": "text", "angle": 270, "fontSize": 5.5, "color": "#333"},
         "encoding": {"text": {"field": "label"}}},
        {"data": {"name": "pts"}, "transform": [{"filter": "datum.panel == 'D'"}], "mark": {"type": "point", "filled": true, "strokeWidth": 0, "size": 24},
         "encoding": {
           "shape": {"field": "stage", "type": "nominal", "scale": {"domain": ["Initial (3-5)", "Early (10-15)", "Intermediate (20-30)", "Late (>40)"], "range": ["circle", "triangle-up", "square", "M-1.7,-0.2H-0.2V-1.7H0.2V-0.2H1.7V0.2H0.2V1.7H-0.2V0.2H-1.7Z"]}, "legend": {"symbolFillColor": "#222", "symbolSize": 26, "columnPadding": 8, "legendX": 9, "legendY": -25}},
           "color": {"field": "site", "type": "nominal", "scale": {"domain": ["Tambor", "Jabirú", "San Felipe"], "range": ["#E8837B", "#35A048", "#5E8ED2"]}, "legend": {"symbolType": "circle", "symbolSize": 22, "columnPadding": 13, "legendX": 314, "legendY": -25}},
           "opacity": {"condition": {"test": "datum.stage == 'Late (>40)'", "value": 0.5}, "value": 0.9}
         }}
      ]
    },
    {
      "title": "E",
      "width": 222, "height": 134,
      "encoding": {
        "x": {"field": "x", "type": "quantitative", "scale": {"domain": [-2.81, 3.19], "nice": false, "zero": false}, "axis": {"values": [-2, -1, 0, 1, 2, 3]}, "title": "Structure and species richness"},
        "y": {"field": "y", "type": "quantitative", "scale": {"domain": [0.3, 2.62], "nice": false, "zero": false}, "axis": {"values": [0.5, 1.0, 1.5, 2.0, 2.5], "format": ".1f"}, "title": "Decomposition"}
      },
      "layer": [
        {"data": {"name": "fit"}, "transform": [{"filter": "datum.panel == 'E'"}], "mark": {"type": "area", "interpolate": "monotone", "color": "#cfe6cc", "opacity": 0.75},
         "encoding": {"y": {"field": "lo", "type": "quantitative", "scale": {"domain": [0.3, 2.62], "nice": false, "zero": false}, "title": "Decomposition"}, "y2": {"field": "hi"}}},
        {"data": {"name": "fit"}, "transform": [{"filter": "datum.panel == 'E'"}], "mark": {"type": "line", "color": "#2c6b30", "strokeWidth": 2, "strokeDash": [9, 3, 2, 3]},
         "encoding": {"y": {"field": "fit", "type": "quantitative", "scale": {"domain": [0.3, 2.62], "nice": false, "zero": false}, "title": "Decomposition"}}},
        {"data": {"name": "pts"}, "transform": [{"filter": "datum.panel == 'E'"}], "mark": {"type": "point", "filled": true, "strokeWidth": 0, "size": 24},
         "encoding": {
           "shape": {"field": "stage", "type": "nominal", "scale": {"domain": ["Initial (3-5)", "Early (10-15)", "Intermediate (20-30)", "Late (>40)"], "range": ["circle", "triangle-up", "square", "M-1.7,-0.2H-0.2V-1.7H0.2V-0.2H1.7V0.2H0.2V1.7H-0.2V0.2H-1.7Z"]}, "legend": {"symbolFillColor": "#222", "symbolSize": 26, "columnPadding": 8, "legendX": 9, "legendY": -25}},
           "color": {"field": "site", "type": "nominal", "scale": {"domain": ["Tambor", "Jabirú", "San Felipe"], "range": ["#E8837B", "#35A048", "#5E8ED2"]}, "legend": {"symbolType": "circle", "symbolSize": 22, "columnPadding": 13, "legendX": 314, "legendY": -25}},
           "opacity": {"condition": {"test": "datum.stage == 'Late (>40)'", "value": 0.5}, "value": 0.9}
         }}
      ]
    },
    {
      "title": "F",
      "width": 222, "height": 134,
      "encoding": {
        "x": {"field": "x", "type": "quantitative", "scale": {"domain": [-3.2, 2.85], "nice": false, "zero": false}, "axis": {"values": [-3, -2, -1, 0, 1, 2]}, "title": "Soil chemical properties"},
        "y": {"field": "y", "type": "quantitative", "scale": {"domain": [0.33, 2.62], "nice": false, "zero": false}, "axis": {"values": [0.5, 1.0, 1.5, 2.0, 2.5], "format": ".1f"}, "title": "Decomposition"}
      },
      "layer": [
        {"data": {"name": "fit"}, "transform": [{"filter": "datum.panel == 'F'"}], "mark": {"type": "area", "interpolate": "monotone", "color": "#cfe6cc", "opacity": 0.75},
         "encoding": {"y": {"field": "lo", "type": "quantitative", "scale": {"domain": [0.33, 2.62], "nice": false, "zero": false}, "title": "Decomposition"}, "y2": {"field": "hi"}}},
        {"data": {"name": "fit"}, "transform": [{"filter": "datum.panel == 'F'"}], "mark": {"type": "line", "color": "#2c6b30", "strokeWidth": 2, "strokeDash": [9, 3, 2, 3]},
         "encoding": {"y": {"field": "fit", "type": "quantitative", "scale": {"domain": [0.33, 2.62], "nice": false, "zero": false}, "title": "Decomposition"}}},
        {"data": {"name": "arrows"}, "transform": [{"filter": "datum.panel == 'F'"}], "mark": {"type": "rule", "color": "#111", "strokeWidth": 1.5},
         "encoding": {"x2": {"field": "x2"}, "y2": {"field": "y2"}}},
        {"data": {"name": "heads"}, "transform": [{"filter": "datum.panel == 'F'"}], "mark": {"type": "point", "shape": "triangle-right", "filled": true, "color": "#111", "size": 22, "opacity": 1}, "encoding": {}},
        {"data": {"name": "notes"}, "transform": [{"filter": "datum.panel == 'F'"}], "mark": {"type": "text", "fontSize": 5.5, "color": "#333"},
         "encoding": {"text": {"field": "label"}}},
        {"data": {"name": "pts"}, "transform": [{"filter": "datum.panel == 'F'"}], "mark": {"type": "point", "filled": true, "strokeWidth": 0, "size": 24},
         "encoding": {
           "shape": {"field": "stage", "type": "nominal", "scale": {"domain": ["Initial (3-5)", "Early (10-15)", "Intermediate (20-30)", "Late (>40)"], "range": ["circle", "triangle-up", "square", "M-1.7,-0.2H-0.2V-1.7H0.2V-0.2H1.7V0.2H0.2V1.7H-0.2V0.2H-1.7Z"]}, "legend": {"symbolFillColor": "#222", "symbolSize": 26, "columnPadding": 8, "legendX": 9, "legendY": -25}},
           "color": {"field": "site", "type": "nominal", "scale": {"domain": ["Tambor", "Jabirú", "San Felipe"], "range": ["#E8837B", "#35A048", "#5E8ED2"]}, "legend": {"symbolType": "circle", "symbolSize": 22, "columnPadding": 13, "legendX": 314, "legendY": -25}},
           "opacity": {"condition": {"test": "datum.stage == 'Late (>40)'", "value": 0.5}, "value": 0.9}
         }}
      ]
    }
  ]
}
